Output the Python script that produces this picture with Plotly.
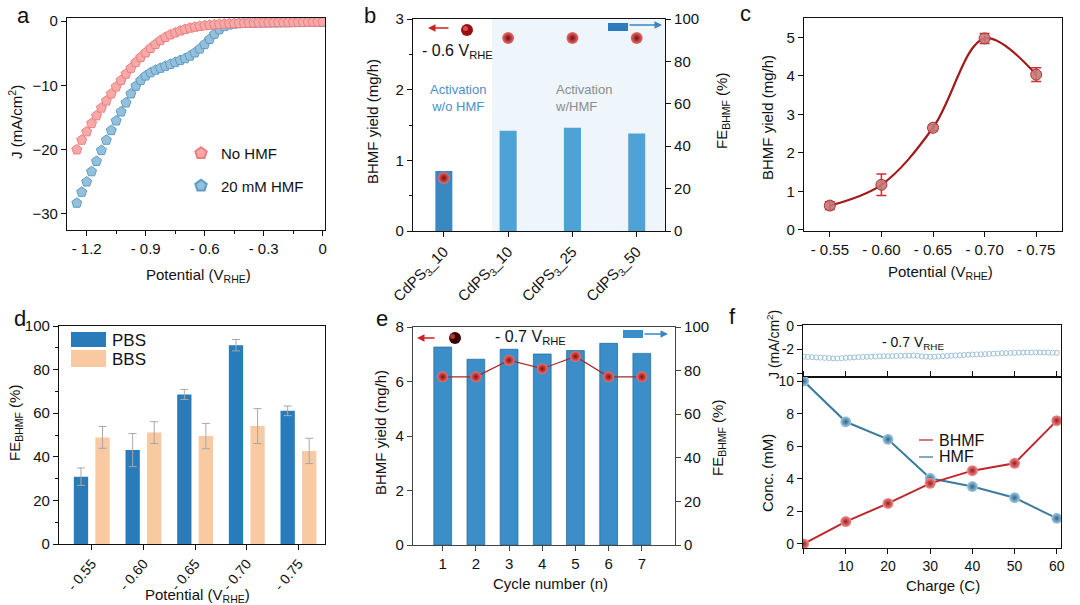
import plotly.graph_objects as go

FONT = "Liberation Sans, Arial, sans-serif"
W, H = 1080, 605


def X(p):
    return p / W


def Y(p):
    return 1 - p / H


# ---------------- data ----------------
# panel a : LSV curves
pot_a = [-1.25, -1.225, -1.2, -1.175, -1.15, -1.125, -1.1, -1.075, -1.05, -1.025,
         -1.0, -0.975, -0.95, -0.925, -0.9, -0.875, -0.85, -0.825, -0.8, -0.775,
         -0.75, -0.725, -0.7, -0.675, -0.65, -0.625, -0.6, -0.575, -0.55, -0.525,
         -0.5, -0.475, -0.45, -0.425, -0.4, -0.375, -0.35, -0.325, -0.3, -0.275,
         -0.25, -0.225, -0.2, -0.175, -0.15, -0.125, -0.1, -0.075, -0.05, -0.025, 0.0]
j_no_hmf = [-20.0, -18.5, -17.2, -15.9, -14.7, -13.5, -12.4, -11.3, -10.2, -9.2,
            -8.2, -7.3, -6.4, -5.6, -4.9, -4.2, -3.6, -3.0, -2.5, -2.1,
            -1.8, -1.5, -1.25, -1.05, -0.9, -0.78, -0.68, -0.6, -0.53, -0.47,
            -0.42, -0.38, -0.35, -0.32, -0.3, -0.28, -0.26, -0.24, -0.22, -0.21,
            -0.2, -0.19, -0.18, -0.17, -0.16, -0.15, -0.14, -0.13, -0.12, -0.11, -0.1]
j_hmf = [-28.3, -26.6, -25.0, -23.4, -21.8, -20.1, -18.5, -17.0, -15.5, -14.1,
         -12.7, -11.3, -10.1, -9.2, -8.5, -8.0, -7.6, -7.3, -7.0, -6.7,
         -6.4, -6.1, -5.8, -5.4, -4.9, -4.3, -3.6, -2.8, -2.0, -1.3,
         -0.8, -0.55, -0.42, -0.36, -0.32, -0.3, -0.28, -0.26, -0.25, -0.24,
         -0.23, -0.22, -0.21, -0.2, -0.19, -0.18, -0.17, -0.16, -0.16, -0.15, -0.15]
pot_a_ticks = [-1.2, -0.9, -0.6, -0.3, 0]
pot_a_labels = ["- 1.2", "- 0.9", "- 0.6", "- 0.3", "0"]

# panel b
cat_b_pos = [0, 1, 2, 3]
cat_b = ["CdPS<sub>3</sub>_10", "CdPS<sub>3</sub>_10", "CdPS<sub>3</sub>_25", "CdPS<sub>3</sub>_50"]
fe_b = [28.3, 47.3, 48.7, 46.0]
yield_b = [0.75, 2.73, 2.73, 2.73]

# panel c
pot_c = [0.55, 0.60, 0.65, 0.70, 0.75]
pot_labels = ["- 0.55", "- 0.60", "- 0.65", "- 0.70", "- 0.75"]
yield_c = [0.63, 1.17, 2.65, 4.97, 4.03]
yield_c_err = [0.10, 0.28, 0.08, 0.13, 0.18]

# panel d
pot_d_pos = [0, 1, 2, 3, 4]
fe_pbs = [30.9, 43.1, 68.6, 91.2, 61.1]
fe_pbs_err = [4.0, 7.6, 2.3, 2.6, 2.2]
fe_bbs = [48.9, 51.1, 49.5, 54.1, 42.7]
fe_bbs_err = [5.0, 5.0, 5.8, 8.0, 5.8]

# panel e
cycles = [1, 2, 3, 4, 5, 6, 7]
fe_e = [90.8, 85.2, 89.8, 87.6, 89.2, 92.5, 87.9]
yield_e = [6.17, 6.17, 6.78, 6.47, 6.92, 6.17, 6.17]

# panel f
charge = [0, 10, 20, 30, 40, 50, 60]
charge_labels = ["", "10", "20", "30", "40", "50", "60"]
bhmf = [0.0, 1.37, 2.49, 3.72, 4.50, 4.95, 7.57]
hmf = [10.0, 7.50, 6.42, 4.03, 3.52, 2.84, 1.57]
charge_j = list(range(61))
j_f = [-2.60, -2.62, -2.64, -2.66, -2.68, -2.70, -2.72, -2.74, -2.75, -2.73, -2.70,
       -2.68, -2.66, -2.64, -2.62, -2.61, -2.60, -2.58, -2.57, -2.56, -2.55,
       -2.55, -2.54, -2.53, -2.52, -2.51, -2.50, -2.52, -2.56, -2.60, -2.61,
       -2.60, -2.58, -2.56, -2.54, -2.52, -2.50, -2.48, -2.46, -2.44, -2.42,
       -2.41, -2.40, -2.38, -2.37, -2.35, -2.33, -2.31, -2.30, -2.29, -2.28,
       -2.27, -2.26, -2.25, -2.25, -2.24, -2.24, -2.25, -2.26, -2.27, -2.28]

# ---------------- colours ----------------
PINK_F, PINK_L = "#F7A9A9", "#EC8080"
LBLUE_F, LBLUE_L = "#94C0DC", "#5E9CC6"
BAR_B1, BAR_B2 = "#3A88C2", "#4FA2D6"
SHADE = "#EEF5FB"
PBS_C, BBS_C = "#2A7BB9", "#F9C9A1"
BAR_E = "#3B8EC7"

fig = go.Figure()

# ---- panel a ----
fig.add_trace(go.Scatter(x=pot_a, y=j_hmf, mode="markers", name="20 mM HMF",
                         marker=dict(symbol="pentagon", size=10.5, color=LBLUE_F,
                                     line=dict(color=LBLUE_L, width=1)),
                         xaxis="x", yaxis="y", legend="legend", legendgroup="g2", legendrank=2))
fig.add_trace(go.Scatter(x=pot_a, y=j_no_hmf, mode="markers", name="No HMF",
                         marker=dict(symbol="pentagon", size=10.5, color=PINK_F,
                                     line=dict(color=PINK_L, width=1)),
                         xaxis="x", yaxis="y", legend="legend", legendgroup="g1", legendrank=1))

# ---- panel b ----
fig.add_trace(go.Bar(x=cat_b_pos, y=fe_b, width=0.265,
                     marker=dict(color=[BAR_B1, BAR_B2, BAR_B2, BAR_B2], line=dict(width=0)),
                     xaxis="x2", yaxis="y2", showlegend=False))
fig.add_trace(go.Scatter(x=cat_b_pos, y=yield_b, mode="markers",
                         marker=dict(size=12, color="#E87070",
                                     gradient=dict(type="radial", color="#7A0808"),
                                     line=dict(width=0)),
                         xaxis="x2", yaxis="y3", showlegend=False))

# ---- panel c ----
fig.add_trace(go.Scatter(x=pot_c, y=yield_c, mode="lines+markers",
                         line=dict(color="#A31A1A", width=2.2, shape="spline", smoothing=1.0),
                         marker=dict(size=11, color="rgba(196,120,120,0.9)",
                                     line=dict(color="#B03030", width=1)),
                         error_y=dict(type="data", array=yield_c_err, color="#C83030",
                                      thickness=1.5, width=5),
                         xaxis="x3", yaxis="y4", showlegend=False))

# ---- panel d ----
fig.add_trace(go.Bar(x=pot_d_pos, y=fe_pbs, width=0.277, offset=-0.347,
                     marker=dict(color=PBS_C, line=dict(width=0)),
                     error_y=dict(type="data", array=fe_pbs_err, color="#A8A8A8",
                                  thickness=1, width=4),
                     xaxis="x4", yaxis="y5", showlegend=False))
fig.add_trace(go.Bar(x=pot_d_pos, y=fe_bbs, width=0.277, offset=0.07,
                     marker=dict(color=BBS_C, line=dict(width=0)),
                     error_y=dict(type="data", array=fe_bbs_err, color="#A8A8A8",
                                  thickness=1, width=4),
                     xaxis="x4", yaxis="y5", showlegend=False))

# ---- panel e ----
fig.add_trace(go.Bar(x=cycles, y=fe_e, width=0.535,
                     marker=dict(color=BAR_E, line=dict(color="#2B6E9E", width=0.8)),
                     xaxis="x5", yaxis="y6", showlegend=False))
fig.add_trace(go.Scatter(x=cycles, y=yield_e, mode="lines+markers",
                         line=dict(color="#A52A2A", width=1.2),
                         marker=dict(size=11, color="#F07070",
                                     gradient=dict(type="radial", color="#8A0A0A"),
                                     line=dict(width=0)),
                         xaxis="x5", yaxis="y7", showlegend=False))

# ---- panel f ----
fig.add_trace(go.Scatter(x=charge_j, y=j_f, mode="markers",
                         marker=dict(symbol="circle-open", size=5, color="#9EC2DA",
                                     line=dict(width=1)),
                         xaxis="x6", yaxis="y8", showlegend=False))
fig.add_trace(go.Scatter(x=charge, y=hmf, mode="lines+markers",
                         line=dict(color="#3C7B9E", width=2),
                         marker=dict(size=11, color="#A6CCE4",
                                     gradient=dict(type="radial", color="#2B668C"),
                                     line=dict(width=0)),
                         xaxis="x7", yaxis="y9", showlegend=False))
fig.add_trace(go.Scatter(x=charge, y=bhmf, mode="lines+markers",
                         line=dict(color="#C0262B", width=2),
                         marker=dict(size=11, color="#F29090",
                                     gradient=dict(type="radial", color="#A01818"),
                                     line=dict(width=0)),
                         xaxis="x7", yaxis="y9", showlegend=False))


# ---------------- axes ----------------
def ax(size=15, **kw):
    base = dict(showline=True, linecolor="#111", linewidth=1.2, ticks="outside",
                ticklen=5, tickwidth=1.2, tickcolor="#111", automargin=False,
                tickfont=dict(family=FONT, size=size, color="#111"),
                showgrid=False, zeroline=False)
    base.update(kw)
    return base


layout_axes = dict(
    xaxis=ax(domain=[X(67), X(325)], anchor="y", range=[-1.30, 0.012],
             tickvals=pot_a_ticks, ticktext=pot_a_labels, mirror=True,
             minor=dict(ticks="outside", ticklen=3, tickwidth=1, tickcolor="#111",
                        tick0=0, dtick=0.15)),
    yaxis=ax(domain=[Y(230), Y(18)], anchor="x", range=[-32.5, 0.5],
             tickvals=[0, -10, -20, -30], mirror=True),

    xaxis2=ax(domain=[X(413), X(665)], anchor="y2", range=[-0.48, 3.44],
              tickvals=cat_b_pos, ticktext=cat_b, tickangle=-45, mirror=True),
    yaxis2=ax(domain=[Y(231), Y(19)], anchor="x2", side="right", range=[0, 100],
              tickvals=[0, 20, 40, 60, 80, 100]),
    yaxis3=ax(overlaying="y2", anchor="x2", side="left", range=[0, 3],
              tickvals=[0, 1, 2, 3],
              minor=dict(ticks="outside", ticklen=3, tickwidth=1, tickcolor="#111",
                         tick0=0, dtick=0.5)),

    xaxis3=ax(domain=[X(804), X(1062)], anchor="y4", range=[0.525, 0.775],
              tickvals=pot_c, ticktext=pot_labels, mirror=True),
    yaxis4=ax(domain=[Y(231), Y(18)], anchor="x3", range=[-0.03, 5.5],
              tickvals=[0, 1, 2, 3, 4, 5], mirror=True),

    xaxis4=ax(size=14, domain=[X(59), X(325)], anchor="y5", range=[-0.634, 4.514],
              tickvals=pot_d_pos, ticktext=pot_labels, tickangle=-50, mirror=True),
    yaxis5=ax(domain=[Y(544), Y(326)], anchor="x4", range=[0, 100],
              tickvals=[0, 20, 40, 60, 80, 100], mirror=True,
              minor=dict(ticks="outside", ticklen=3, tickwidth=1, tickcolor="#111",
                         tick0=0, dtick=10)),

    xaxis5=ax(domain=[X(413), X(675)], anchor="y6", range=[0.105, 8.0],
              tickvals=cycles, mirror=True, linecolor="#444", tickcolor="#444"),
    yaxis6=ax(domain=[Y(545), Y(327)], anchor="x5", side="right", range=[0, 100],
              tickvals=[0, 20, 40, 60, 80, 100], linecolor="#444", tickcolor="#444"),
    yaxis7=ax(overlaying="y6", anchor="x5", side="left", range=[0, 8],
              tickvals=[0, 2, 4, 6, 8], linecolor="#444", tickcolor="#444"),

    xaxis6=ax(domain=[X(803), X(1061)], anchor="y8", range=[-0.14, 61],
              showticklabels=False, ticks="", mirror=True),
    yaxis8=ax(size=14, domain=[Y(377), Y(325)], anchor="x6", range=[-4.3, 0.05],
              tickvals=[0, -2, -4], ticktext=["0", "-2", ""], mirror=True),
    xaxis7=ax(size=14, domain=[X(803), X(1061)], anchor="y9", range=[-0.14, 61],
              tickvals=charge, ticktext=charge_labels, mirror="ticks"),
    yaxis9=ax(size=14, domain=[Y(548), Y(377)], anchor="x7", range=[-0.25, 10.25],
              tickvals=[0, 2, 4, 6, 8, 10], mirror=True),
)

# ---------------- annotations ----------------
ann = []


def txt(x, y, s, size=15, angle=0, color="#111", xanchor="center", align="center"):
    ann.append(dict(x=X(x), y=Y(y), xref="paper", yref="paper", text=s, showarrow=False,
                    textangle=angle, xanchor=xanchor, yanchor="middle", align=align,
                    font=dict(family=FONT, size=size, color=color)))


def arrow(hx, hy, tx, ty, color):
    ann.append(dict(x=X(hx), y=Y(hy), xref="paper", yref="paper", text="",
                    showarrow=True, ax=tx - hx, ay=ty - hy, axref="pixel", ayref="pixel",
                    arrowhead=2, arrowsize=1, arrowwidth=1.5, arrowcolor=color, standoff=0))


# panel letters
for lx, ly, s in [(23, 16, "a"), (370, 16, "b"), (745, 14, "c"),
                  (20, 318, "d"), (382, 318, "e"), (732, 316, "f")]:
    txt(lx, ly, s, size=22)

# axis titles
txt(15, 122, "J (mA/cm<sup>2</sup>)", angle=-90)
txt(198, 275, "Potential (V<sub>RHE</sub>)")
txt(372, 122, "BHMF yield (mg/h)", angle=-90)
txt(722, 111, "FE<sub>BHMF</sub> (%)", angle=-90)
txt(767, 118, "BHMF yield (mg/h)", angle=-90)
txt(940, 272, "Potential (V<sub>RHE</sub>)")
txt(15, 423, "FE<sub>BHMF</sub> (%)", angle=-90)
txt(197, 595, "Potential (V<sub>RHE</sub>)")
txt(380, 433, "BHMF yield (mg/h)", angle=-90)
txt(718, 438, "FE<sub>BHMF</sub> (%)", angle=-90)
txt(550, 583, "Cycle number (n)")
txt(773, 345, "J (mA/cm<sup>2</sup>)", size=14, angle=-90)
txt(767, 473, "Conc. (mM)", angle=-90)
txt(943, 585, "Charge (C)")

# in-plot texts
txt(420, 51, "- 0.6 V<sub>RHE</sub>", size=16, xanchor="left")
txt(458, 98, "Activation<br>w/o HMF", size=13, color="#4A8FCB")
txt(553, 98, "Activation<br>w/HMF", size=13, color="#8C8C8C", xanchor="left", align="left")
txt(493, 337, "- 0.7 V<sub>RHE</sub>", size=16, xanchor="left")
txt(880, 343, "- 0.7 V<sub>RHE</sub>", size=14, xanchor="left")

# legends drawn as text + swatches
txt(110, 340, "PBS", size=17, xanchor="left")
txt(110, 359, "BBS", size=17, xanchor="left")
txt(937, 440, "BHMF", size=16, xanchor="left")
txt(937, 457, "HMF", size=16, xanchor="left")

arrow(428, 28, 450, 28, "#D02020")
arrow(662, 25, 628, 25, "#3A86C4")
arrow(417, 338, 436, 338, "#D02020")
arrow(668, 334, 643, 334, "#3A86C4")

# ---------------- shapes ----------------
shapes = [
    dict(type="rect", xref="x2", yref="y2 domain", x0=0.75, x1=3.44, y0=0, y1=1,
         fillcolor=SHADE, line=dict(width=0), layer="below"),
    dict(type="rect", xref="paper", yref="paper", x0=X(608), x1=X(628), y0=Y(31), y1=Y(23),
         fillcolor="#2C7BBF", line=dict(width=0)),
    dict(type="rect", xref="paper", yref="paper", x0=X(623), x1=X(643), y0=Y(338), y1=Y(330),
         fillcolor=BAR_E, line=dict(width=0)),
    dict(type="circle", xref="paper", yref="paper", x0=X(461), x1=X(473), y0=Y(36), y1=Y(24),
         fillcolor="#9A1010", line=dict(width=0)),
    dict(type="circle", xref="paper", yref="paper", x0=X(463), x1=X(468), y0=Y(31), y1=Y(26),
         fillcolor="#D85050", line=dict(width=0)),
    dict(type="circle", xref="paper", yref="paper", x0=X(449), x1=X(461), y0=Y(344), y1=Y(332),
         fillcolor="#3A0505", line=dict(width=0)),
    dict(type="circle", xref="paper", yref="paper", x0=X(450), x1=X(455), y0=Y(339), y1=Y(334),
         fillcolor="#C03030", line=dict(width=0)),
    dict(type="rect", xref="paper", yref="paper", x0=X(71), x1=X(106), y0=Y(347), y1=Y(332),
         fillcolor=PBS_C, line=dict(width=0)),
    dict(type="rect", xref="paper", yref="paper", x0=X(71), x1=X(106), y0=Y(367), y1=Y(350),
         fillcolor=BBS_C, line=dict(width=0)),
    dict(type="line", xref="paper", yref="paper", x0=X(919), x1=X(933), y0=Y(440), y1=Y(440),
         line=dict(color="#C0504D", width=1.5)),
    dict(type="line", xref="paper", yref="paper", x0=X(919), x1=X(933), y0=Y(457), y1=Y(457),
         line=dict(color="#5A8DB0", width=1.5)),
]

fig.update_layout(
    width=W, height=H, margin=dict(l=0, r=0, t=0, b=0, autoexpand=False),
    paper_bgcolor="white", plot_bgcolor="rgba(0,0,0,0)",
    font=dict(family=FONT, size=15, color="#111"),
    barmode="overlay",
    annotations=ann, shapes=shapes,
    legend=dict(x=X(181), y=Y(137), xanchor="left", yanchor="top",
                bgcolor="rgba(0,0,0,0)", font=dict(family=FONT, size=15, color="#111"),
                tracegroupgap=10, itemsizing="constant", traceorder="grouped"),
    **layout_axes,
)

fig.write_html("out.html")
